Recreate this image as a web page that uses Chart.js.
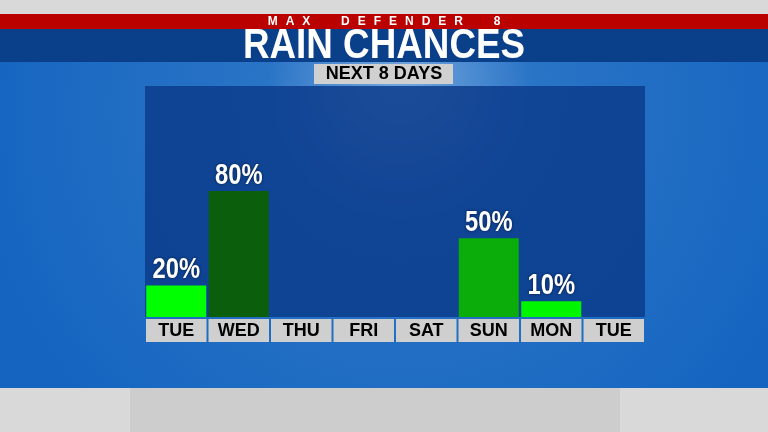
<!DOCTYPE html>
<html><head><meta charset="utf-8">
<script src="https://cdn.jsdelivr.net/npm/chart.js@4"></script>
<style>html,body{margin:0;padding:0;background:#ccc}canvas{display:block}</style>
</head><body>
<div style="width:768px;height:432px"><canvas id="c"></canvas></div>
<script>
const days = ["TUE","WED","THU","FRI","SAT","SUN","MON","TUE"];
const chances = [20,80,0,0,0,50,10,0];
const barColors = ["#00ff00","#0b5e0b","#0aad0a","#0aad0a","#0aad0a","#0aad0a","#00f500","#00ff00"];
const supTitle = "M A X   D E F E N D E R   8";
const title = "RAIN CHANCES";
const subTitle = "NEXT 8 DAYS";

const bg = {
  id:'bg',
  beforeDraw(ch){
    const c=ch.ctx, W=768, H=432;
    c.save();
    c.fillStyle='#d9d9d9'; c.fillRect(0,0,W,H);
    let g=c.createRadialGradient(400,80,10,400,120,420);
    g.addColorStop(0,'#6fa3dc'); g.addColorStop(0.3,'#2a74c6'); g.addColorStop(1,'#1565c0');
    c.fillStyle=g; c.fillRect(0,62,W,326);
    c.fillStyle='#cdcdcd'; c.fillRect(130,388,490,44);
    c.fillStyle='#bb0000'; c.fillRect(0,14,W,15);
    c.fillStyle='#0a3f8a'; c.fillRect(0,29,W,33);
    const a=ch.chartArea;
    c.fillStyle='rgba(12,60,140,0.85)'; c.fillRect(a.left,86,a.right-a.left,a.bottom-86);
    c.fillStyle='#d0d0d0'; c.fillRect(314,64,139,20);
    c.textAlign='center'; c.textBaseline='middle';
    c.fillStyle='#fff'; c.font='bold 12px "Liberation Sans"';
    c.letterSpacing='8px'; c.fillText('MAX  DEFENDER  8',388,22); c.letterSpacing='0px';
    c.save(); c.translate(384,46); c.scale(0.92,1.08);
    c.font='bold 40px "Liberation Sans"'; c.fillText(title,0,0); c.restore();
    c.fillStyle='#000'; c.font='bold 18px "Liberation Sans"'; c.fillText(subTitle,384,74);
    c.restore();
  },
  afterDatasetsDraw(ch){
    const c=ch.ctx, x=ch.scales.x, y=ch.scales.y, a=ch.chartArea;
    const w=(a.right-a.left)/days.length;
    c.save();
    c.textAlign='center'; c.textBaseline='middle';
    days.forEach((d,i)=>{
      const cx=x.getPixelForValue(i);
      c.fillStyle='#cfcfcf'; c.fillRect(cx-w/2+1,a.bottom+2,w-2,23);
      c.fillStyle='#000'; c.font='bold 18px "Liberation Sans"'; c.fillText(d,cx,a.bottom+14);
      if(chances[i]>0){
        c.fillStyle='#fff';
        c.shadowColor='rgba(0,0,0,0.6)'; c.shadowBlur=3;
        c.save(); c.translate(cx,y.getPixelForValue(chances[i])-15); c.scale(0.95,1.15);
        c.font='bold 25px "Liberation Sans"'; c.fillText(chances[i]+'%',0,0); c.restore();
        c.shadowBlur=0;
      }
    });
    c.restore();
  }
};

new Chart(document.getElementById('c'),{
  type:'bar',
  data:{labels:days,datasets:[{data:chances,backgroundColor:barColors,categoryPercentage:1,barPercentage:0.96}]},
  options:{
    responsive:true,maintainAspectRatio:false,animation:false,
    layout:{padding:{left:145,right:123,top:86,bottom:115}},
    plugins:{legend:{display:false},tooltip:{enabled:false}},
    scales:{
      x:{display:false,grid:{display:false}},
      y:{display:false,min:0,max:146.7,grid:{display:false}}
    }
  },
  plugins:[bg]
});
</script>
</body></html>
